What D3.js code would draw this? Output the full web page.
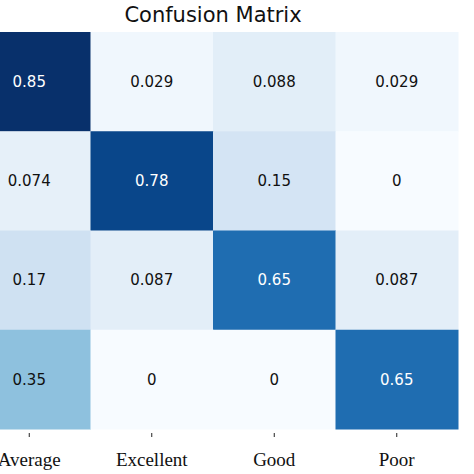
<!DOCTYPE html>
<html>
<head>
<meta charset="utf-8">
<script src="https://cdn.jsdelivr.net/npm/d3@7"></script>
<style>body{margin:0;background:#fff}</style>
</head>
<body>
<div id="chart"></div>
<script>
const labels = ["Average", "Excellent", "Good", "Poor"];
const matrix = [
  [0.85, 0.029, 0.088, 0.029],
  [0.074, 0.78, 0.15, 0],
  [0.17, 0.087, 0.65, 0.087],
  [0.35, 0, 0, 0.65]
];
const cellText = [
  ["0.85", "0.029", "0.088", "0.029"],
  ["0.074", "0.78", "0.15", "0"],
  ["0.17", "0.087", "0.65", "0.087"],
  ["0.35", "0", "0", "0.65"]
];

const W = 474, H = 474;
const mLeft = -32, mRight = 458, mTop = 32, mBottom = 429;

const svg = d3.select("#chart").append("svg")
  .attr("width", W).attr("height", H);

const x = d3.scaleBand().domain(d3.range(4)).range([mLeft, mRight]);
const y = d3.scaleBand().domain(d3.range(4)).range([mTop, mBottom]);
const color = d3.scaleSequential(d3.interpolateBlues).domain([0, 0.85]);

const cells = [];
matrix.forEach((row, i) => row.forEach((v, j) => cells.push({ i, j, v, t: cellText[i][j] })));

svg.selectAll("rect.cell").data(cells).join("rect")
  .attr("class", "cell")
  .attr("x", d => x(d.j)).attr("y", d => y(d.i))
  .attr("width", x.bandwidth() + 0.5).attr("height", y.bandwidth() + 0.5)
  .attr("fill", d => color(d.v));

svg.selectAll("text.val").data(cells).join("text")
  .attr("class", "val")
  .attr("x", d => x(d.j) + x.bandwidth() / 2)
  .attr("y", d => y(d.i) + y.bandwidth() / 2)
  .attr("dy", "0.35em")
  .attr("text-anchor", "middle")
  .attr("font-family", "DejaVu Sans")
  .attr("font-size", 15)
  .attr("fill", d => d.v > 0.5 ? "#fff" : "#111")
  .text(d => d.t);

// x axis: ticks and serif labels
const ax = svg.append("g");
ax.selectAll("line").data(labels).join("line")
  .attr("x1", (d, j) => x(j) + x.bandwidth() / 2)
  .attr("x2", (d, j) => x(j) + x.bandwidth() / 2)
  .attr("y1", mBottom + 4).attr("y2", mBottom + 8)
  .attr("stroke", "#222").attr("stroke-width", 1);
ax.selectAll("text").data(labels).join("text")
  .attr("x", (d, j) => x(j) + x.bandwidth() / 2)
  .attr("y", 466)
  .attr("text-anchor", "middle")
  .attr("font-family", "Liberation Serif")
  .attr("font-size", 19)
  .attr("fill", "#111")
  .text(d => d);

svg.append("text")
  .attr("x", (mLeft + mRight) / 2).attr("y", 22)
  .attr("text-anchor", "middle")
  .attr("font-family", "DejaVu Sans")
  .attr("font-size", 21)
  .attr("fill", "#111")
  .text("Confusion Matrix");
</script>
</body>
</html>
